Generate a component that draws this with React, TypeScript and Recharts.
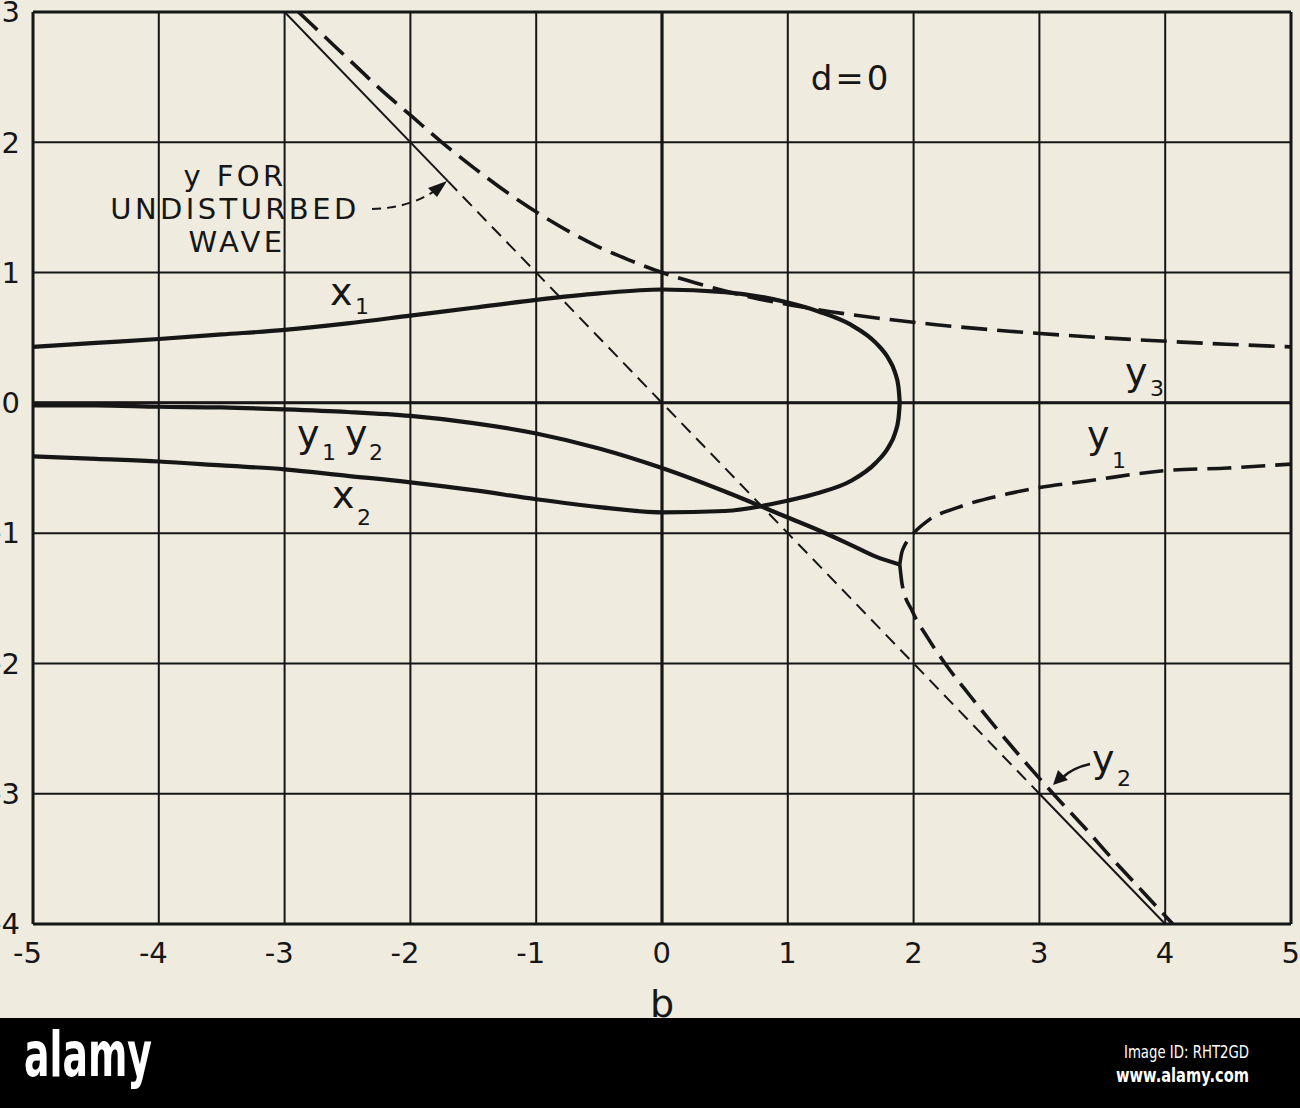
import { CartesianGrid, Line, LineChart, ReferenceLine, XAxis, YAxis } from 'recharts'

// axis ticks
const bTicks = [-5, -4, -3, -2, -1, 0, 1, 2, 3, 4, 5]
const yTicks = [-4, -3, -2, -1, 0, 1, 2, 3]

// x1 (upper half of the loop)
const x1Points = [
  { b: -5, y: 0.43 },
  { b: -4.5, y: 0.46 },
  { b: -4, y: 0.49 },
  { b: -3.5, y: 0.525 },
  { b: -3, y: 0.56 },
  { b: -2.5, y: 0.61 },
  { b: -2, y: 0.67 },
  { b: -1.5, y: 0.73 },
  { b: -1, y: 0.79 },
  { b: -0.5, y: 0.84 },
  { b: 0, y: 0.87 },
  { b: 0.5, y: 0.85 },
  { b: 1, y: 0.77 },
  { b: 1.25, y: 0.7 },
  { b: 1.5, y: 0.6 },
  { b: 1.7, y: 0.46 },
  { b: 1.8, y: 0.34 },
  { b: 1.85, y: 0.24 },
  { b: 1.88, y: 0.12 },
  { b: 1.89, y: 0 },
]

// x2 (lower half of the loop)
const x2Points = [
  { b: -5, y: -0.41 },
  { b: -4.5, y: -0.43 },
  { b: -4, y: -0.45 },
  { b: -3.5, y: -0.48 },
  { b: -3, y: -0.51 },
  { b: -2.5, y: -0.56 },
  { b: -2, y: -0.61 },
  { b: -1.5, y: -0.67 },
  { b: -1, y: -0.74 },
  { b: -0.5, y: -0.8 },
  { b: 0, y: -0.84 },
  { b: 0.5, y: -0.83 },
  { b: 1, y: -0.75 },
  { b: 1.25, y: -0.69 },
  { b: 1.5, y: -0.6 },
  { b: 1.7, y: -0.46 },
  { b: 1.8, y: -0.34 },
  { b: 1.85, y: -0.24 },
  { b: 1.88, y: -0.12 },
  { b: 1.89, y: 0 },
]

// y1 = y2 while the roots are complex
const y12Points = [
  { b: -5, y: -0.02 },
  { b: -4.5, y: -0.02 },
  { b: -4, y: -0.03 },
  { b: -3.5, y: -0.035 },
  { b: -3, y: -0.05 },
  { b: -2.5, y: -0.07 },
  { b: -2, y: -0.1 },
  { b: -1.5, y: -0.155 },
  { b: -1, y: -0.235 },
  { b: -0.5, y: -0.35 },
  { b: 0, y: -0.5 },
  { b: 0.5, y: -0.68 },
  { b: 1, y: -0.88 },
  { b: 1.25, y: -0.98 },
  { b: 1.5, y: -1.09 },
  { b: 1.7, y: -1.18 },
  { b: 1.89, y: -1.24 },
]

// y3, long dashes
const y3Points = [
  { b: -2.89, y: 3 },
  { b: -2.67, y: 2.8 },
  { b: -2.45, y: 2.6 },
  { b: -2.23, y: 2.4 },
  { b: -1.99, y: 2.2 },
  { b: -1.75, y: 2 },
  { b: -1.49, y: 1.8 },
  { b: -1.21, y: 1.6 },
  { b: -0.89, y: 1.4 },
  { b: -0.51, y: 1.2 },
  { b: -0.27, y: 1.1 },
  { b: 0, y: 1 },
  { b: 0.34, y: 0.9 },
  { b: 0.76, y: 0.8 },
  { b: 1.03, y: 0.75 },
  { b: 1.34, y: 0.7 },
  { b: 1.72, y: 0.65 },
  { b: 2.18, y: 0.6 },
  { b: 2.76, y: 0.55 },
  { b: 3.5, y: 0.5 },
  { b: 4.06, y: 0.47 },
  { b: 4.49, y: 0.45 },
  { b: 5, y: 0.43 },
]

// y1 after the split, long dashes
const y1Points = [
  { b: 1.89, y: -1.24 },
  { b: 1.906, y: -1.15 },
  { b: 1.926, y: -1.1 },
  { b: 1.957, y: -1.05 },
  { b: 2, y: -1 },
  { b: 2.12, y: -0.9 },
  { b: 2.36, y: -0.8 },
  { b: 2.74, y: -0.7 },
  { b: 3, y: -0.65 },
  { b: 3.38, y: -0.6 },
  { b: 4, y: -0.52 },
  { b: 4.5, y: -0.5 },
  { b: 5, y: -0.47 },
]

// y2 after the split, long dashes
const y2Points = [
  { b: 1.89, y: -1.24 },
  { b: 1.91, y: -1.4 },
  { b: 1.99, y: -1.6 },
  { b: 2.11, y: -1.8 },
  { b: 2.25, y: -2 },
  { b: 2.45, y: -2.25 },
  { b: 2.66, y: -2.5 },
  { b: 2.88, y: -2.75 },
  { b: 3.11, y: -3 },
  { b: 3.35, y: -3.25 },
  { b: 3.58, y: -3.5 },
  { b: 3.82, y: -3.75 },
  { b: 4.06, y: -4 },
]

// y for undisturbed wave (y = -b), solid at both ends, dashed between
const undisturbedTop = [
  { b: -3, y: 3 },
  { b: -1.7, y: 1.7 },
]
const undisturbedMid = [
  { b: -1.7, y: 1.7 },
  { b: 3, y: -3 },
]
const undisturbedEnd = [
  { b: 3, y: -3 },
  { b: 4, y: -4 },
]

const FONT = '"DejaVu Sans", "Liberation Sans", sans-serif'
const INK = '#161616'
const PAPER = '#efebde'

function XTick({ x, y, payload }: any) {
  return (
    <text x={x + 9} y={y} dy="0.71em" textAnchor="end" fill={INK} fontSize={29} fontFamily={FONT}>
      {String(payload.value)}
    </text>
  )
}

function YTick({ x, y, payload }: any) {
  return (
    <text x={x} y={y} dy="0.355em" textAnchor="end" fill={INK} fontSize={29} fontFamily={FONT}>
      {String(payload.value)}
    </text>
  )
}

function Sym({ ch, sub, x, y, sx, sy }: { ch: string; sub: string; x: number; y: number; sx: number; sy: number }) {
  return (
    <g fill={INK} fontFamily={FONT}>
      <text x={x} y={y} fontSize={38}>
        {ch}
      </text>
      <text x={sx} y={sy} fontSize={22}>
        {sub}
      </text>
    </g>
  )
}

function Annotations() {
  return (
    <svg
      width={1300}
      height={1018}
      style={{ position: 'absolute', left: 0, top: 0, pointerEvents: 'none' }}
    >
      <text x={851} y={90} textAnchor="middle" fontSize={34} letterSpacing={3} fill={INK} fontFamily={FONT}>
        d=0
      </text>

      <g fill={INK} fontFamily={FONT} fontSize={29} letterSpacing={3.4} textAnchor="middle">
        <text x={235} y={186}>y FOR</text>
        <text x={235} y={219}>UNDISTURBED</text>
        <text x={237} y={252}>WAVE</text>
      </g>
      <path d="M 372 209 Q 410 208 436 190" fill="none" stroke={INK} strokeWidth={2} strokeDasharray="9 6" />
      <polygon points="447,181 428,188 437,197" fill={INK} />

      <Sym ch="x" sub="1" x={330} y={305} sx={355} sy={314} />
      <Sym ch="y" sub="1" x={297} y={447} sx={322} sy={460} />
      <Sym ch="y" sub="2" x={345} y={447} sx={369} sy={460} />
      <Sym ch="x" sub="2" x={332} y={508} sx={357} sy={525} />
      <Sym ch="y" sub="3" x={1125} y={385} sx={1150} sy={396} />
      <Sym ch="y" sub="1" x={1087} y={448} sx={1112} sy={468} />
      <Sym ch="y" sub="2" x={1092} y={772} sx={1117} sy={786} />
      <path d="M 1090 764 Q 1072 768 1062 778" fill="none" stroke={INK} strokeWidth={2.5} />
      <polygon points="1053,785 1058,770 1068,780" fill={INK} />

      <text x={662} y={1017} textAnchor="middle" fontSize={38} fill={INK} fontFamily={FONT}>
        b
      </text>
    </svg>
  )
}

function Footer() {
  return (
    <svg width={1300} height={90} style={{ position: 'absolute', left: 0, top: 1018, display: 'block' }}>
      <rect x={0} y={0} width={1300} height={90} fill="#000" />
      <text
        x={24}
        y={58}
        fontSize={62}
        fontWeight="bold"
        fill="#fff"
        fontFamily={FONT}
        textLength={128}
        lengthAdjust="spacingAndGlyphs"
      >
        alamy
      </text>
      <text x={1124} y={40} fontSize={18} fill="#fff" fontFamily={FONT} textLength={125} lengthAdjust="spacingAndGlyphs">
        Image ID: RHT2GD
      </text>
      <text
        x={1116}
        y={64}
        fontSize={20}
        fontWeight="bold"
        fill="#fff"
        fontFamily={FONT}
        textLength={133}
        lengthAdjust="spacingAndGlyphs"
      >
        www.alamy.com
      </text>
    </svg>
  )
}

export default function App() {
  const dashed = { stroke: INK, strokeWidth: 3.6, strokeDasharray: '26 10', fill: 'none' }
  const solid = { stroke: INK, strokeWidth: 4.2, fill: 'none' }
  return (
    <div
      style={{
        position: 'absolute',
        left: 0,
        top: 0,
        width: 1300,
        height: 1108,
        background: PAPER,
        overflow: 'hidden',
      }}
    >
      <LineChart width={1300} height={1018} margin={{ top: 12, right: 9, bottom: 0, left: 0 }}>
        <CartesianGrid stroke={INK} strokeWidth={2} />
        <XAxis
          type="number"
          dataKey="b"
          domain={[-5, 5]}
          ticks={bTicks}
          allowDataOverflow
          axisLine={false}
          tickLine={false}
          tickSize={6}
          tickMargin={12}
          height={94}
          tick={<XTick />}
          interval={0}
        />
        <YAxis
          type="number"
          dataKey="y"
          domain={[-4, 3]}
          ticks={yTicks}
          allowDataOverflow
          axisLine={false}
          tickLine={false}
          tickSize={6}
          tickMargin={7}
          width={33}
          tick={<YTick />}
          interval={0}
        />
        <ReferenceLine x={-5} stroke={INK} strokeWidth={3} />
        <ReferenceLine x={5} stroke={INK} strokeWidth={3} />
        <ReferenceLine y={3} stroke={INK} strokeWidth={3} />
        <ReferenceLine y={-4} stroke={INK} strokeWidth={3} />
        <ReferenceLine x={0} stroke={INK} strokeWidth={3.2} />
        <ReferenceLine y={0} stroke={INK} strokeWidth={3} />

        <Line data={undisturbedTop} dataKey="y" type="linear" stroke={INK} strokeWidth={2} dot={false} activeDot={false} isAnimationActive={false} />
        <Line data={undisturbedMid} dataKey="y" type="linear" stroke={INK} strokeWidth={2} strokeDasharray="13 8" dot={false} activeDot={false} isAnimationActive={false} />
        <Line data={undisturbedEnd} dataKey="y" type="linear" stroke={INK} strokeWidth={2} dot={false} activeDot={false} isAnimationActive={false} />

        <Line data={y3Points} dataKey="y" type="monotone" {...dashed} dot={false} activeDot={false} isAnimationActive={false} />
        <Line data={y1Points} dataKey="y" type="monotone" {...dashed} strokeDasharray="24 10" dot={false} activeDot={false} isAnimationActive={false} />
        <Line data={y2Points} dataKey="y" type="monotone" {...dashed} strokeDasharray="24 10" dot={false} activeDot={false} isAnimationActive={false} />

        <Line data={x1Points} dataKey="y" type="monotone" {...solid} dot={false} activeDot={false} isAnimationActive={false} />
        <Line data={x2Points} dataKey="y" type="monotone" {...solid} dot={false} activeDot={false} isAnimationActive={false} />
        <Line data={y12Points} dataKey="y" type="monotone" {...solid} dot={false} activeDot={false} isAnimationActive={false} />
      </LineChart>

      <Annotations />
      <Footer />
    </div>
  )
}
